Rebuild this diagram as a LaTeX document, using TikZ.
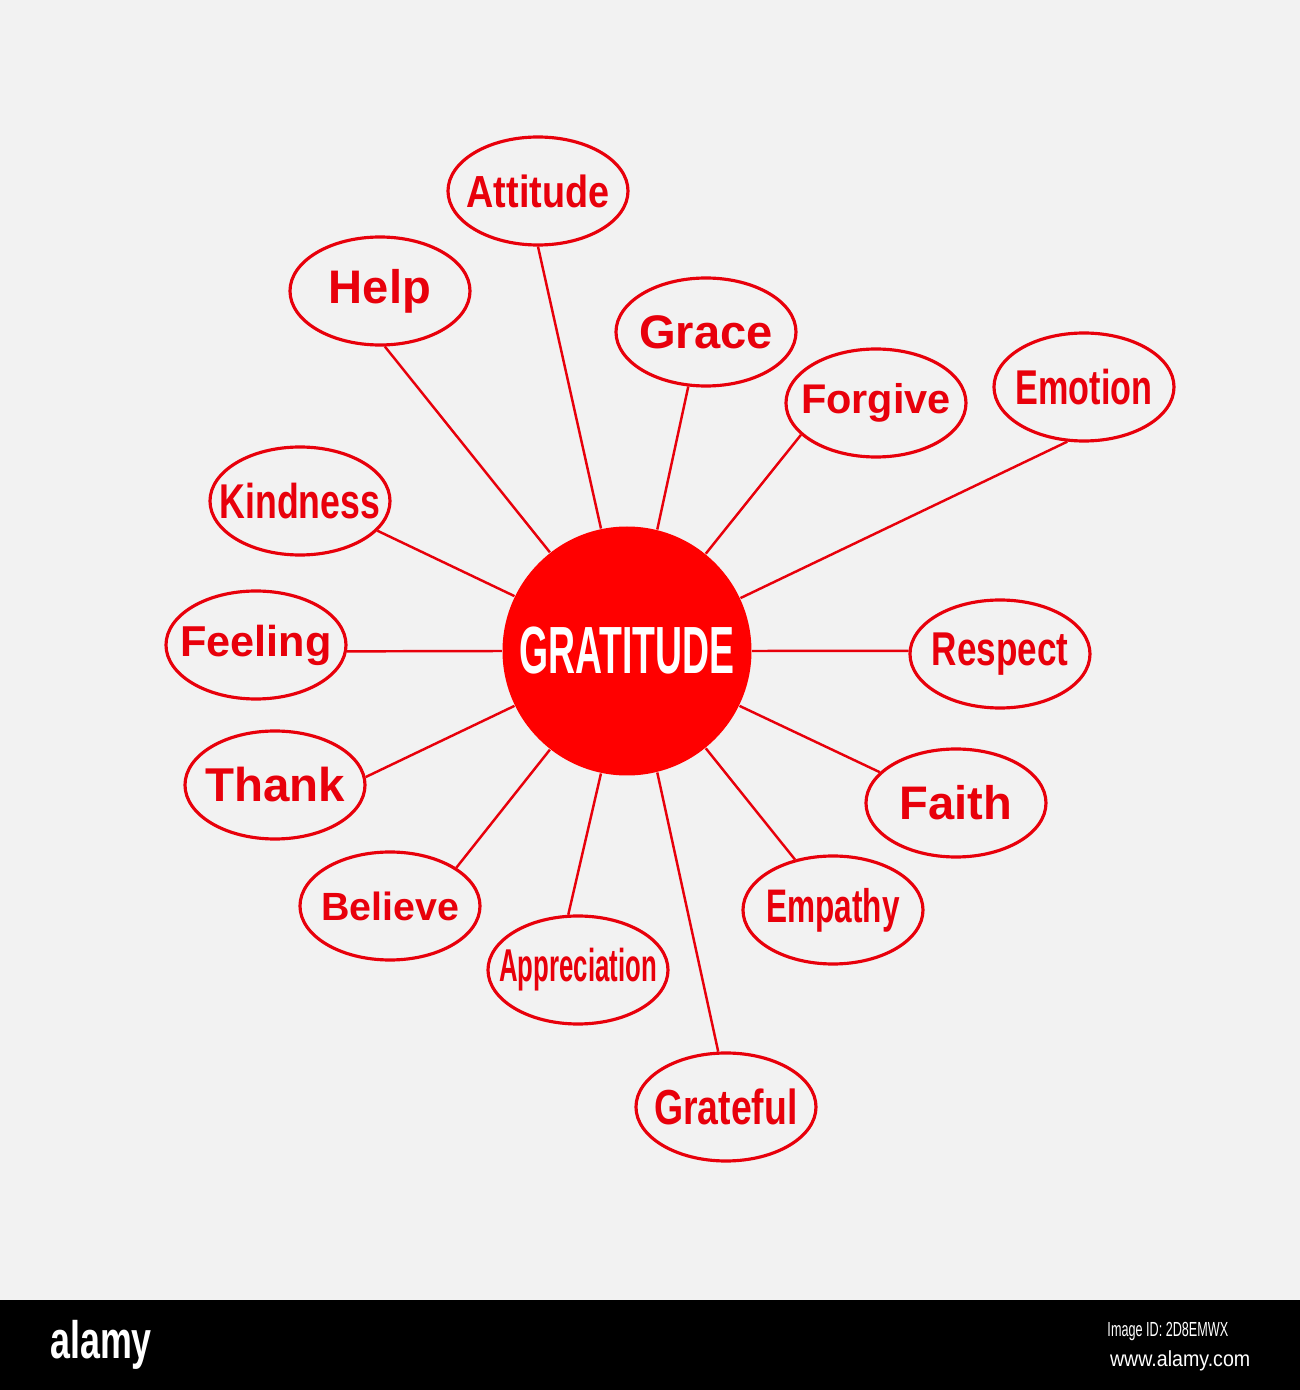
\documentclass[tikz,border=0pt]{standalone}
\usepackage{fontspec}
\setmainfont{Liberation Sans}
\usepackage{graphicx}
\usepackage{tikz}
\usetikzlibrary{shapes.geometric}
\definecolor{bgColor}{HTML}{F2F2F2}
\definecolor{mapRed}{HTML}{E8000B}
\definecolor{hubRed}{HTML}{FF0000}
\newcommand{\squeeze}[2]{\makebox[0pt]{\scalebox{#1}[1]{#2}}}
\newcommand{\fsize}[1]{\fontsize{#1}{#1}\selectfont\bfseries}
\tikzstyle{idea} = [ellipse,
minimum width=1.8cm,
minimum height=1.08cm,
inner sep=0pt,
draw=mapRed,
line width=0.9pt,
fill=bgColor,
text=mapRed,
text centered]
\tikzstyle{hub} = [circle,
minimum size=2.49cm,
inner sep=0pt,
fill=hubRed,
text=white]
\tikzstyle{spoke} = [draw=mapRed, line width=0.7pt]
\tikzstyle{stamp} = [text=white, inner sep=0pt]

\begin{document}
\begin{tikzpicture}
    \useasboundingbox (0,0) rectangle (13,13.9);
    \fill[bgColor] (0,0.9) rectangle (13,13.9);
    \fill[black] (0,0) rectangle (13,0.9);

    % Nodes
    \node[hub] (gratitude) at (6.27,7.39) {\fsize{19}\squeeze{0.56}{GRATITUDE}};
    \node[idea] (attitude) at (5.38,11.99) {\fsize{12.8}\squeeze{0.84}{Attitude}};
    \node[idea] (help) at (3.80,10.99) {\fsize{13.4}\squeeze{1}{Help}};
    \node[idea] (grace) at (7.06,10.58) {\fsize{13.4}\squeeze{1}{Grace}};
    \node[idea] (forgive) at (8.76,9.87) {\fsize{11.8}\squeeze{1}{Forgive}};
    \node[idea] (emotion) at (10.84,10.03) {\fsize{13.9}\squeeze{0.7}{Emotion}};
    \node[idea] (kindness) at (3.00,8.89) {\fsize{13.9}\squeeze{0.73}{Kindness}};
    \node[idea] (feeling) at (2.56,7.45) {\fsize{12.3}\squeeze{1}{Feeling}};
    \node[idea] (respect) at (10.00,7.36) {\fsize{13.5}\squeeze{0.74}{Respect}};
    \node[idea] (thank) at (2.75,6.05) {\fsize{13.5}\squeeze{1}{Thank}};
    \node[idea] (faith) at (9.56,5.87) {\fsize{13.4}\squeeze{1}{Faith}};
    \node[idea] (believe) at (3.90,4.84) {\fsize{11.2}\squeeze{1}{Believe}};
    \node[idea] (empathy) at (8.33,4.80) {\fsize{13.4}\squeeze{0.67}{Empathy}};
    \node[idea] (appreciation) at (5.78,4.20) {\fsize{13.1}\squeeze{0.56}{Appreciation}};
    \node[idea] (grateful) at (7.26,2.83) {\fsize{14}\squeeze{0.76}{Grateful}};

    % watermark bar
    \node[stamp] (logo) at (1.01,0.45) {\fsize{15}\squeeze{0.68}{alamy}};
    \node[stamp, anchor=east] (imageid) at (12.29,0.59) {\fontsize{5.8}{6}\selectfont\scalebox{0.62}[1]{Image ID: 2D8EMWX}};
    \node[stamp, anchor=east] (site) at (12.51,0.29) {\fontsize{6.2}{7}\selectfont\scalebox{0.9}[1]{www.alamy.com}};

    % Spokes (leaf / angle on hub / angle on leaf)
    \foreach \leaf/\a/\b in {attitude/102/270, help/128/275, grace/76/252,
        forgive/51/203, emotion/25/253, kindness/154/339, feeling/180/356,
        respect/0/178, thank/206/5, faith/334/158, believe/232/30,
        empathy/309/127, appreciation/258/100, grateful/284/98}
        \draw[spoke] (gratitude.\a) -- (\leaf.\b);
\end{tikzpicture}
\end{document}
